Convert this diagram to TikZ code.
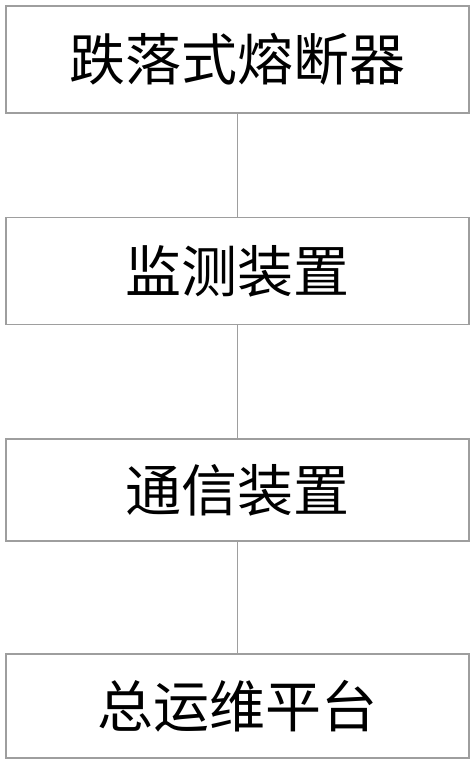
\documentclass[tikz,border=0pt]{standalone}
\usepackage{fontspec}
\newfontfamily\cjk{Noto Sans CJK SC}
\definecolor{boxgray}{HTML}{9E9E9E}
\begin{document}
\begin{tikzpicture}[x=1pt,y=-1pt,
  blk/.style={draw=boxgray,line width=1.6pt,minimum width=463pt,minimum height=107pt,
    inner sep=0pt,font={\cjk\fontsize{56}{60}\selectfont},text=black},
  conn/.style={draw=boxgray,line width=1.4pt}]
\useasboundingbox (0,0) rectangle (474,764);
\node[blk] (a) at (237.5,59.5) {跌落式熔断器};
\node[blk] (b) at (237.5,271) {监测装置};
\node[blk,minimum height=102pt] (c) at (237.5,490) {通信装置};
\node[blk,minimum height=104pt] (d) at (237.5,706) {总运维平台};
\draw[conn] (a) -- (b);
\draw[conn] (b) -- (c);
\draw[conn] (c) -- (d);
\end{tikzpicture}
\end{document}
